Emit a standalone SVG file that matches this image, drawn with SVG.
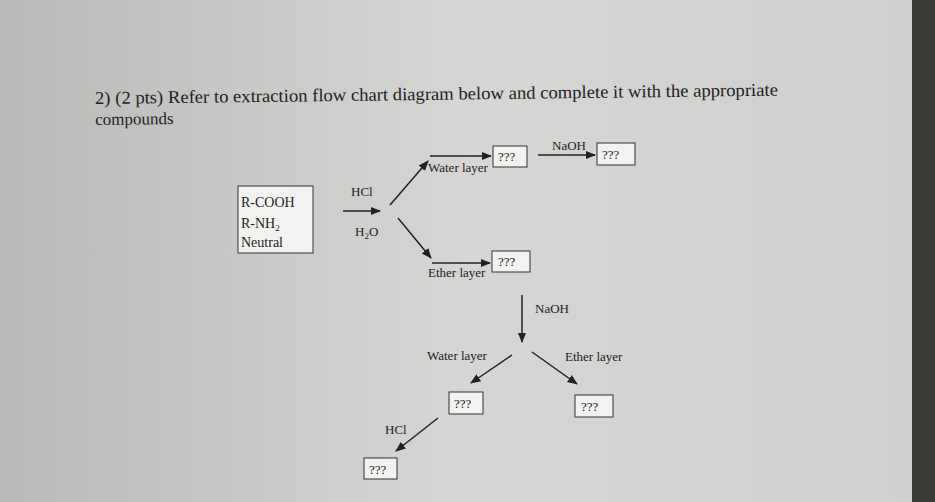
<svg xmlns="http://www.w3.org/2000/svg" width="935" height="502" viewBox="0 0 935 502">
<defs>
<marker id="ah" viewBox="0 0 10 10" refX="9" refY="5" markerWidth="7" markerHeight="7" orient="auto"><path d="M0,1 L10,5 L0,9 z" fill="#222"/></marker>
<linearGradient id="bg" x1="0" y1="0" x2="1" y2="0"><stop offset="0" stop-color="#b9b9b7"/><stop offset="0.5" stop-color="#d6d6d4"/><stop offset="1" stop-color="#cfcfcd"/></linearGradient>
</defs>
<style>
text{font-family:"Liberation Serif",serif;fill:#222}
.s{font-size:13px}
.m{font-size:14px}
.b{fill:#f2f2f0;stroke:#333;stroke-width:1}
.c line{stroke:#222;stroke-width:1.5;fill:none}
</style>
<rect width="935" height="502" fill="url(#bg)"/>
<rect x="912" y="0" width="23" height="502" fill="#3a3936"/>
<g id="title" transform="rotate(-0.7 95 100)">
<text x="95" y="104" font-size="18" textLength="683" lengthAdjust="spacingAndGlyphs">2) (2 pts) Refer to extraction flow chart diagram below and complete it with the appropriate</text>
<text x="95" y="125" font-size="17">compounds</text>
</g>
<g id="start"><rect class="b" x="238" y="186" width="75" height="67"/>
<text class="m" x="241" y="207">R-COOH</text><text class="m" x="241" y="228">R-NH<tspan font-size="9" dy="3">2</tspan></text><text class="m" x="241" y="247">Neutral</text></g>
<g id="reagent1"><text class="s" x="351" y="196">HCl</text><text class="s" x="355" y="236">H<tspan font-size="9" dy="3">2</tspan><tspan dy="-3">O</tspan></text></g>
<g id="wl1"><text class="s" x="428" y="172">Water layer</text></g>
<g id="q1"><rect class="b" x="493" y="146" width="34" height="21"/><text class="s" x="498" y="161">???</text></g>
<g id="naoh1"><text class="s" x="552" y="150">NaOH</text></g>
<g id="q2"><rect class="b" x="597" y="143" width="38" height="22"/><text class="s" x="602" y="159">???</text></g>
<g id="el1"><text class="s" x="428" y="277">Ether layer</text></g>
<g id="q3"><rect class="b" x="492" y="251" width="38" height="21"/><text class="s" x="498" y="266">???</text></g>
<g id="naoh2"><text class="s" x="535" y="313">NaOH</text></g>
<g id="wl2"><text class="s" x="427" y="360">Water layer</text></g>
<g id="el2"><text class="s" x="565" y="361">Ether layer</text></g>
<g id="q4"><rect class="b" x="449" y="392" width="34" height="22"/><text class="s" x="454" y="408">???</text></g>
<g id="q5"><rect class="b" x="575" y="395" width="38" height="22"/><text class="s" x="581" y="411">???</text></g>
<g id="hcl2"><text class="s" x="385" y="434">HCl</text></g>
<g id="q6"><rect class="b" x="364" y="458" width="33" height="21"/><text class="s" x="369" y="474">???</text></g>
<g class="c" id="connectors">
<line x1="343" y1="211" x2="380" y2="211" marker-end="url(#ah)"/>
<line x1="390" y1="205" x2="428" y2="161" marker-end="url(#ah)"/>
<line x1="430" y1="156" x2="491" y2="156" marker-end="url(#ah)"/>
<line x1="538" y1="155" x2="595" y2="155" marker-end="url(#ah)"/>
<line x1="398" y1="218" x2="431" y2="258" marker-end="url(#ah)"/>
<line x1="432" y1="263" x2="490" y2="263" marker-end="url(#ah)"/>
<line x1="522" y1="295" x2="522" y2="342" marker-end="url(#ah)"/>
<line x1="512" y1="355" x2="471" y2="383" marker-end="url(#ah)"/>
<line x1="532" y1="352" x2="577" y2="384" marker-end="url(#ah)"/>
<line x1="438" y1="418" x2="396" y2="451" marker-end="url(#ah)"/>
</g>
</svg>
